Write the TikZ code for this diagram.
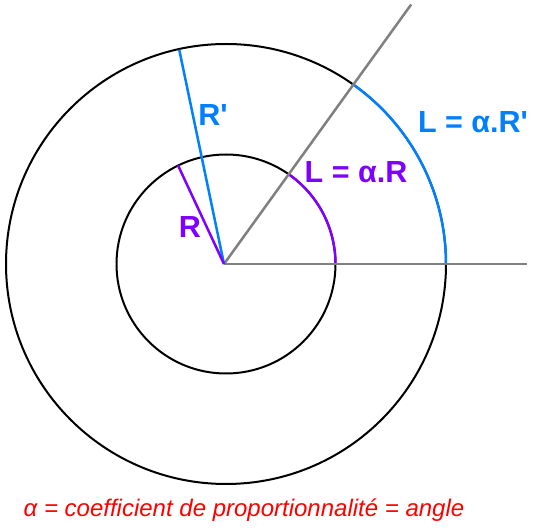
\documentclass[tikz,border=0pt]{standalone}
\usepackage{fontspec}
\setmainfont{Liberation Sans}
\usepackage{tikz}
\definecolor{bleuR}{RGB}{0,128,255}
\definecolor{mauveR}{RGB}{128,0,255}
\definecolor{grisR}{RGB}{128,128,128}

\begin{document}
\begin{tikzpicture}[x=1pt,y=1pt]
		\tikzset{cercle/.style={black,line width=2pt},
			rayon/.style={line width=2.5pt},
			lbl/.style={font=\bfseries\fontsize{30.5}{33}\selectfont,inner sep=0pt}}
		\useasboundingbox (0,0) rectangle (551,530);
		\coordinate (O) at (224,266);
		\coordinate (C) at (226,266);
		\draw [cercle] (C) circle (109.5pt);
		\draw [cercle] (C) circle (220pt);
		% arcs
		\draw [mauveR,rayon] ([shift={(0:109.5pt)}]C) arc[start angle=0,end angle=54.6,radius=109.5pt];
		\draw [bleuR,rayon] ([shift={(0:220pt)}]C) arc[start angle=0,end angle=54.4,radius=220pt];
		% cotes de l'angle
		\coordinate (A) at ([shift={(0:303pt)}]O);
		\coordinate (B) at ([shift={(54.2:320pt)}]O);
		\draw [grisR,rayon] (O) -- (A);
		\draw [grisR,rayon] (O) -- (B);
		% rayons
		\coordinate (P) at ([shift={(101.8:219pt)}]O);
		\coordinate (Q) at ([shift={(115:109pt)}]O);
		\draw [bleuR,rayon] (O) -- (P);
		\draw [mauveR,rayon] (O) -- (Q);
		\node [lbl,text=bleuR] (rp) at (213,415) {R\textquotesingle};
		\node [lbl,text=mauveR] (r) at (190,303) {R};
		\node [lbl,text=mauveR] (l) at (356,358) {L = α.R};
		\node [lbl,text=bleuR] (lp) at (473,408) {L = α.R\textquotesingle};
		\node [text=red,font=\itshape\fontsize{24}{27}\selectfont,inner sep=0pt,anchor=base] (leg) at (244,14) {α = coefficient de proportionnalité = angle};
	\end{tikzpicture}
\end{document}
